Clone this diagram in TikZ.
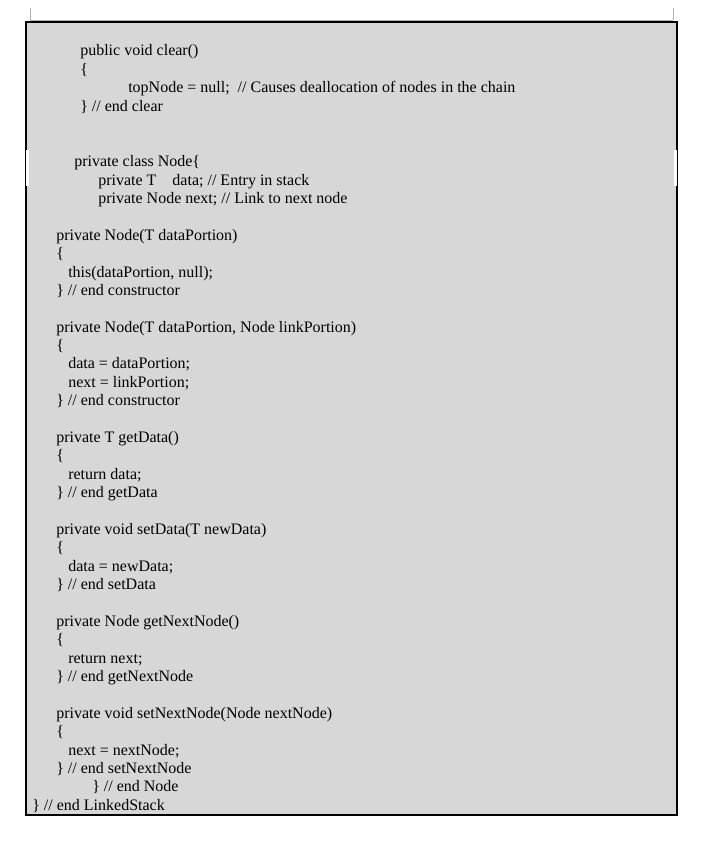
\documentclass[tikz,border=0pt]{standalone}
\usepackage{fontspec}
\setmainfont{Liberation Serif}
\begin{document}
\begin{tikzpicture}[x=0.75pt,y=-0.75pt,
  ln/.style={anchor=base west,inner sep=0pt,font=\fontsize{12pt}{14pt}\selectfont}]
\useasboundingbox (0,0) rectangle (707,843);
\fill[white] (0,0) rectangle (707,843);
\draw[gray!60,line width=0.5pt] (30,20) -- (673,20);
\draw[gray!60,line width=0.5pt] (30,8) -- (30,20) (673,8) -- (673,20);
\fill[black!5!gray!30] (26,22) rectangle (677,815);
\draw[black,line width=0.8pt] (26,22) rectangle (677,815);
\fill[white] (26,150) rectangle (29,186);
\fill[white] (674,150) rectangle (677,186);
\foreach \x/\y/\t [count=\i] in {
80/50/{public void clear()},
80/69/{\{},
128/87/{topNode = null;\ \ // Causes deallocation of nodes in the chain},
80/106/{\} // end clear},
74/161/{private class Node\{},
98/180/{private T\ \ \ \ data; // Entry in stack},
98/198/{private Node next; // Link to next node},
56/235/{private Node(T dataPortion)},
56/253/{\{},
68/272/{this(dataPortion, null);},
56/290/{\} // end constructor},
56/327/{private Node(T dataPortion, Node linkPortion)},
56/345/{\{},
68/363/{data = dataPortion;},
68/382/{next = linkPortion;},
56/400/{\} // end constructor},
56/437/{private T getData()},
56/455/{\{},
68/474/{return data;},
56/492/{\} // end getData},
56/529/{private void setData(T newData)},
56/547/{\{},
68/566/{data = newData;},
56/584/{\} // end setData},
56/621/{private Node getNextNode()},
56/639/{\{},
68/658/{return next;},
56/676/{\} // end getNextNode},
56/713/{private void setNextNode(Node nextNode)},
56/731/{\{},
68/750/{next = nextNode;},
56/768/{\} // end setNextNode},
92/786/{\} // end Node},
32/805/{\} // end LinkedStack}}
  \node[ln] (l\i) at (\x,\y+5) {\t};
\end{tikzpicture}
\end{document}
